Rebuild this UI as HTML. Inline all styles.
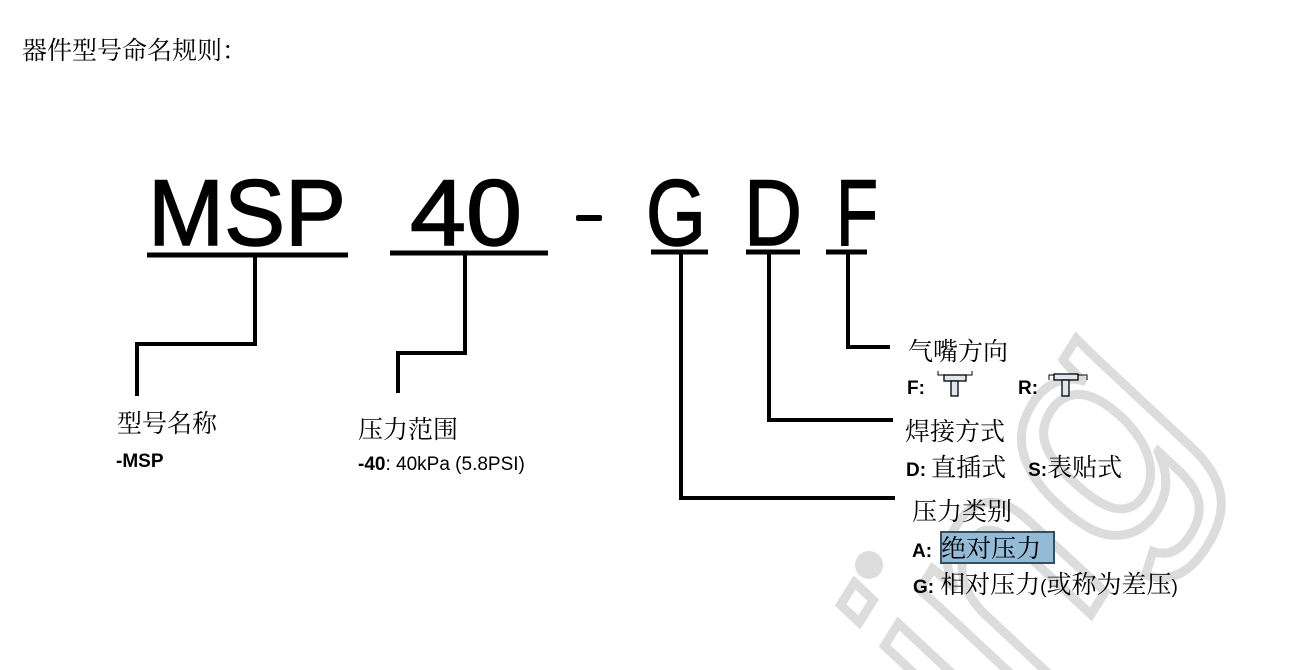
<!DOCTYPE html>
<html><head><meta charset="utf-8"><style>
html,body{margin:0;padding:0;background:#fff;overflow:hidden;width:1304px;height:670px;}
svg{display:block;}
.cn{font-family:"Liberation Serif","Noto Serif CJK SC",serif;font-size:25px;fill:#000;}
.b{font-family:"Liberation Sans","Noto Sans CJK SC",sans-serif;font-weight:bold;font-size:19px;}
.n{font-family:"Liberation Sans","Noto Sans CJK SC",sans-serif;font-size:19px;}
.big{font-family:"Liberation Sans",sans-serif;font-size:94px;fill:#000;stroke:#000;stroke-width:1.5;}
</style></head><body>
<svg width="1304" height="670" viewBox="0 0 1304 670" xmlns="http://www.w3.org/2000/svg">
<defs><clipPath id="c"><rect x="0" y="0" width="1304" height="670"/></clipPath></defs>
<g clip-path="url(#c)">
<g fill="none" stroke="#dcdcdc" stroke-width="9" font-family="Liberation Sans,sans-serif" font-size="300" font-style="italic">
<text x="1000" y="760" transform="rotate(-58 1000 760)">ing</text>
</g>
<circle cx="869" cy="565" r="14" fill="#dcdcdc"/>
</g>

<text class="cn" x="22" y="59">器件型号命名规则：</text>

<text class="big" x="148" y="245" textLength="198" lengthAdjust="spacingAndGlyphs">MSP</text>
<text class="big" x="410" y="245" textLength="112" lengthAdjust="spacingAndGlyphs">40</text>
<rect x="576" y="215" width="26" height="6" rx="2" fill="#000"/>
<text class="big" x="646" y="245" textLength="60" lengthAdjust="spacingAndGlyphs">G</text>
<text class="big" x="744" y="245" textLength="58" lengthAdjust="spacingAndGlyphs">D</text>
<text class="big" x="836" y="245" textLength="42" lengthAdjust="spacingAndGlyphs">F</text>

<g fill="none" stroke="#000" stroke-width="4">
<line x1="147" y1="255" x2="348" y2="255" stroke-width="5"/>
<line x1="390" y1="253" x2="548" y2="253" stroke-width="5"/>
<line x1="651" y1="252" x2="708" y2="252" stroke-width="5"/>
<line x1="746" y1="252" x2="800" y2="252" stroke-width="5"/>
<line x1="826" y1="252" x2="867" y2="252" stroke-width="5"/>
<polyline points="255,255 255,344 137,344 137,396"/>
<polyline points="465,253 465,353 398,353 398,393"/>
<polyline points="681,252 681,498 895,498"/>
<polyline points="769,252 769,420 893,420"/>
<polyline points="848,252 848,347 890,347"/>
</g>

<text class="cn" x="117" y="432">型号名称</text>
<text class="b" x="116" y="467">-MSP</text>
<text class="cn" x="358" y="438">压力范围</text>
<text x="358" y="470"><tspan class="b">-40</tspan><tspan class="n">:  40kPa (5.8PSI)</tspan></text>

<text class="cn" x="908" y="360">气嘴方向</text>
<text class="b" x="907" y="394">F:</text>
<g fill="#dfe6f0" stroke="#000" stroke-width="1.3">
<rect x="944" y="375" width="22" height="6"/><rect x="951" y="381" width="7" height="15"/>
<rect x="1054" y="374" width="24" height="6"/><rect x="1062" y="380" width="7" height="16"/>
</g>
<polyline points="938,371 938,375 944,375" fill="none" stroke="#000" stroke-width="1"/>
<polyline points="972,371 972,375 966,375" fill="none" stroke="#000" stroke-width="1"/>
<polyline points="1049,380 1049,375 1054,375" fill="none" stroke="#000" stroke-width="1"/>
<polyline points="1087,380 1087,375 1078,375" fill="none" stroke="#000" stroke-width="1"/>
<text class="b" x="1018" y="394">R:</text>

<text class="cn" x="905" y="440">焊接方式</text>
<text x="906" y="476"><tspan class="b">D:</tspan><tspan class="cn" dx="5">直插式</tspan><tspan class="b" dx="22">S:</tspan><tspan class="cn">表贴式</tspan></text>

<text class="cn" x="912" y="520">压力类别</text>
<rect x="941" y="532" width="113" height="31" fill="#94bbd6" stroke="#3a4d5c" stroke-width="2"/>
<text x="912" y="557"><tspan class="b">A:</tspan><tspan class="cn" dx="9">绝对压力</tspan></text>
<text x="913" y="593"><tspan class="b">G:</tspan><tspan class="cn" dx="6">相对压力</tspan><tspan class="n">(</tspan><tspan class="cn">或称为差压</tspan><tspan class="n">)</tspan></text>
</svg>
</body></html>
